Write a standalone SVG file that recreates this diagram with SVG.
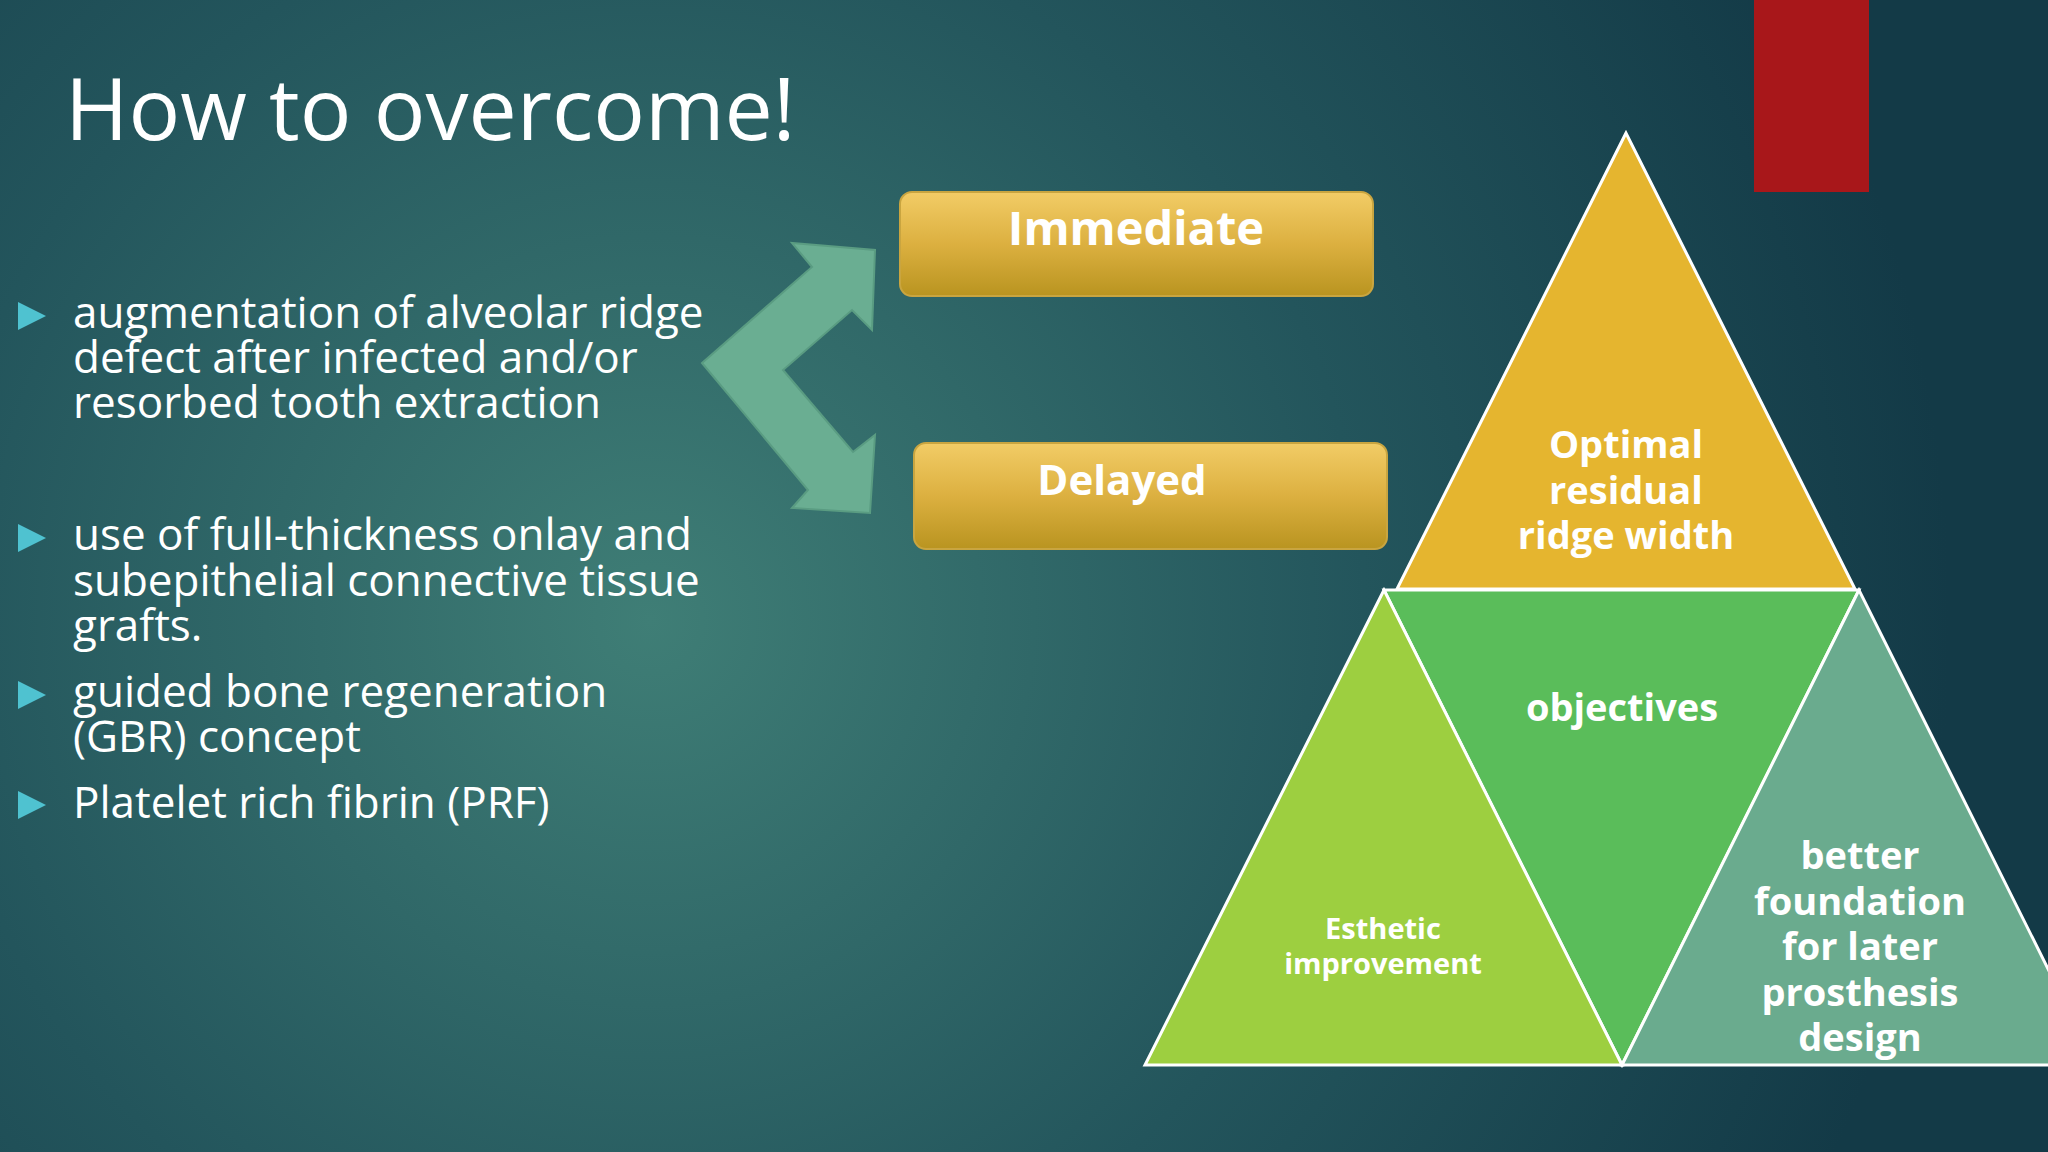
<svg xmlns="http://www.w3.org/2000/svg" width="2048" height="1152" viewBox="0 0 2048 1152">
<defs>
<radialGradient id="bg" cx="650" cy="620" r="1300" gradientUnits="userSpaceOnUse">
<stop offset="0" stop-color="#3f7e76"/>
<stop offset="0.55" stop-color="#23555c"/>
<stop offset="1" stop-color="#133a47"/>
</radialGradient>
<linearGradient id="gold" x1="0" y1="0" x2="0" y2="1">
<stop offset="0" stop-color="#f2cc66"/>
<stop offset="0.5" stop-color="#dcb040"/>
<stop offset="1" stop-color="#b99420"/>
</linearGradient>
<style>
.t{font-family:"Open Sans","Liberation Sans",sans-serif;fill:#fff}
.b{font-size:44px}
.w{font-weight:bold;text-anchor:middle}
.tri{stroke:#fff;stroke-width:3}
</style>
</defs>
<rect width="2048" height="1152" fill="url(#bg)"/>
<rect x="1754" y="0" width="115" height="192" fill="#a8171a"/>
<text class="t" x="65" y="140" font-size="86">How to overcome!</text>
<g id="bullets" fill="#4fc2d0">
<polygon points="18,302 46,316 18,330"/>
<polygon points="18,524 46,538 18,552"/>
<polygon points="18,681 46,695 18,709"/>
<polygon points="18,791 46,805 18,819"/>
</g>
<g class="t b">
<text x="73" y="328">augmentation of alveolar ridge</text>
<text x="73" y="373">defect after infected and/or</text>
<text x="73" y="418">resorbed tooth extraction</text>
<text x="73" y="550">use of full-thickness onlay and</text>
<text x="73" y="596">subepithelial connective tissue</text>
<text x="73" y="641">grafts.</text>
<text x="73" y="707">guided bone regeneration</text>
<text x="73" y="752">(GBR) concept</text>
<text x="73" y="818">Platelet rich fibrin (PRF)</text>
</g>
<g id="connectors">
<polygon points="702,363 812,267 792,243 875,250 872,330 852,310 783,370 853,452 875,435 870,513 792,508 808,490" fill="#6aae92" stroke="#5a9c82" stroke-width="2"/>
</g>
<g id="immediate">
<rect x="900" y="192" width="473" height="104" rx="12" fill="url(#gold)" stroke="#c9a540" stroke-width="2"/>
<text class="t w" x="1136" y="245" font-size="47">Immediate</text>
</g>
<g id="delayed">
<rect x="914" y="443" width="473" height="106" rx="12" fill="url(#gold)" stroke="#c9a540" stroke-width="2"/>
<text class="t w" x="1122" y="495" font-size="42">Delayed</text>
</g>
<g id="optimal">
<polygon class="tri" points="1626,133 1397,589 1855,589" fill="#e5b52f"/>
<text class="t w" font-size="38"><tspan x="1626" y="458">Optimal</tspan><tspan x="1626" y="504">residual</tspan><tspan x="1626" y="549">ridge width</tspan></text>
</g>
<g id="objectives">
<polygon class="tri" points="1384,590 1859,590 1622,1065" fill="#5abd5a"/>
<text class="t w" x="1622" y="721" font-size="38">objectives</text>
</g>
<g id="esthetic">
<polygon class="tri" points="1384,590 1145,1065 1622,1065" fill="#9dcf40"/>
<text class="t w" font-size="29"><tspan x="1383" y="939">Esthetic</tspan><tspan x="1383" y="974">improvement</tspan></text>
</g>
<g id="better">
<polygon class="tri" points="1859,590 1622,1065 2096,1065" fill="#6aab8e"/>
<text class="t w" font-size="38"><tspan x="1860" y="869">better</tspan><tspan x="1860" y="915">foundation</tspan><tspan x="1860" y="960">for later</tspan><tspan x="1860" y="1006">prosthesis</tspan><tspan x="1860" y="1051">design</tspan></text>
</g>
</svg>
